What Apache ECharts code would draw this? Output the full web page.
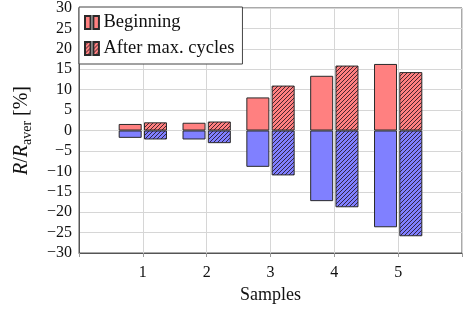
<!DOCTYPE html>
<html>
<head>
<meta charset="utf-8">
<script src="https://cdn.jsdelivr.net/npm/echarts@6/dist/echarts.min.js"></script>
<style>html,body{margin:0;padding:0;background:#fff}#c{width:474px;height:322px}</style>
</head>
<body>
<div id="c"></div>
<script>
// Data
var samples = [1, 2, 3, 4, 5];
var beginPos = [1.6, 1.9, 8.1, 13.4, 16.3];
var beginNeg = [-1.8, -2.2, -8.9, -17.3, -23.7];
var afterPos = [2.0, 2.2, 11.0, 15.9, 14.3];
var afterNeg = [-2.2, -3.1, -11.0, -18.8, -25.9];
var yTicks = { min: -30, max: 30, step: 5 };
var xTicks = { min: 0, max: 6, step: 1 };

var PINK = '#ff8080', BLUE = '#8080ff';
var FONT = 'Liberation Serif';

function hatch(base) {
  var s = 4;
  var c = document.createElement('canvas');
  c.width = s; c.height = s;
  var g = c.getContext('2d');
  g.fillStyle = base; g.fillRect(0, 0, s, s);
  g.strokeStyle = 'rgba(30,15,25,0.9)';
  g.lineWidth = 0.9;
  g.beginPath();
  g.moveTo(0, s); g.lineTo(s, 0);
  g.moveTo(-s / 2, s / 2); g.lineTo(s / 2, -s / 2);
  g.moveTo(s / 2, s * 1.5); g.lineTo(s * 1.5, s / 2);
  g.stroke();
  return { image: c, repeat: 'repeat' };
}

function pairs(vals) { return samples.map(function (s, i) { return [s, vals[i]]; }); }

var border = { borderColor: '#2a2a2a', borderWidth: 1 };
function bar(name, stack, vals, color) {
  return {
    type: 'bar', name: name, stack: stack, data: pairs(vals),
    barWidth: 23, barGap: '10%',
    itemStyle: Object.assign({ color: color }, border),
    emphasis: { disabled: true }
  };
}

var chart = echarts.init(document.getElementById('c'), null, { renderer: 'canvas' });
chart.setOption({
  animation: false,
  textStyle: { fontFamily: FONT },
  grid: { left: 79, right: 12, top: 7, bottom: 69, show: true, borderColor: '#555', borderWidth: 1 },
  legend: {
    data: ['Beginning', 'After max. cycles'],
    orient: 'vertical', left: 79, top: 7,
    backgroundColor: '#fff', borderColor: '#444', borderWidth: 1,
    padding: [6, 8, 6, 5], itemGap: 7,
    itemWidth: 15, itemHeight: 13,
    icon: 'path://M0,0H6V14H0Z M9,0H15V14H9Z',
    textStyle: { fontFamily: FONT, fontSize: 18.5, color: '#111', padding: [0, 0, 0, -1] }
  },
  xAxis: {
    type: 'value', min: xTicks.min, max: xTicks.max, interval: xTicks.step,
    name: 'Samples', nameLocation: 'middle', nameGap: 28,
    nameTextStyle: { fontFamily: FONT, fontSize: 18, color: '#111' },
    axisLine: { onZero: false, lineStyle: { color: '#555' } },
    axisTick: { show: true, length: 4, lineStyle: { color: '#999' } },
    axisLabel: {
      fontFamily: FONT, fontSize: 16, color: '#111', margin: 12,
      formatter: function (v) { return (v === xTicks.min || v === xTicks.max) ? '' : String(v); }
    },
    splitLine: { show: true, lineStyle: { color: '#d6d6d6' } }
  },
  yAxis: {
    type: 'value', min: yTicks.min, max: yTicks.max, interval: yTicks.step,
    name: '{i|R}{n|/}{i|R}{s|aver}{n| [%]}', nameLocation: 'middle', nameGap: 45, nameRotate: 90,
    nameTextStyle: {
      rich: {
        i: { fontFamily: FONT, fontSize: 20, fontStyle: 'italic', color: '#111', lineHeight: 24 },
        n: { fontFamily: FONT, fontSize: 20, color: '#111', lineHeight: 24 },
        s: { fontFamily: FONT, fontSize: 14, color: '#111', lineHeight: 24, verticalAlign: 'bottom' }
      }
    },
    axisLine: { show: true, onZero: false, lineStyle: { color: '#555' } },
    axisTick: { show: false },
    axisLabel: {
      fontFamily: FONT, fontSize: 16, color: '#111', margin: 7,
      formatter: function (v) { return v < 0 ? '\u2212' + Math.abs(v) : String(v); }
    },
    splitLine: { show: true, lineStyle: { color: '#d6d6d6' } }
  },
  series: [
    bar('Beginning', 'beg', beginPos, PINK),
    bar('Beginning', 'beg', beginNeg, BLUE),
    bar('After max. cycles', 'aft', afterPos, hatch(PINK)),
    bar('After max. cycles', 'aft', afterNeg, hatch(BLUE))
  ]
});
</script>
</body>
</html>
